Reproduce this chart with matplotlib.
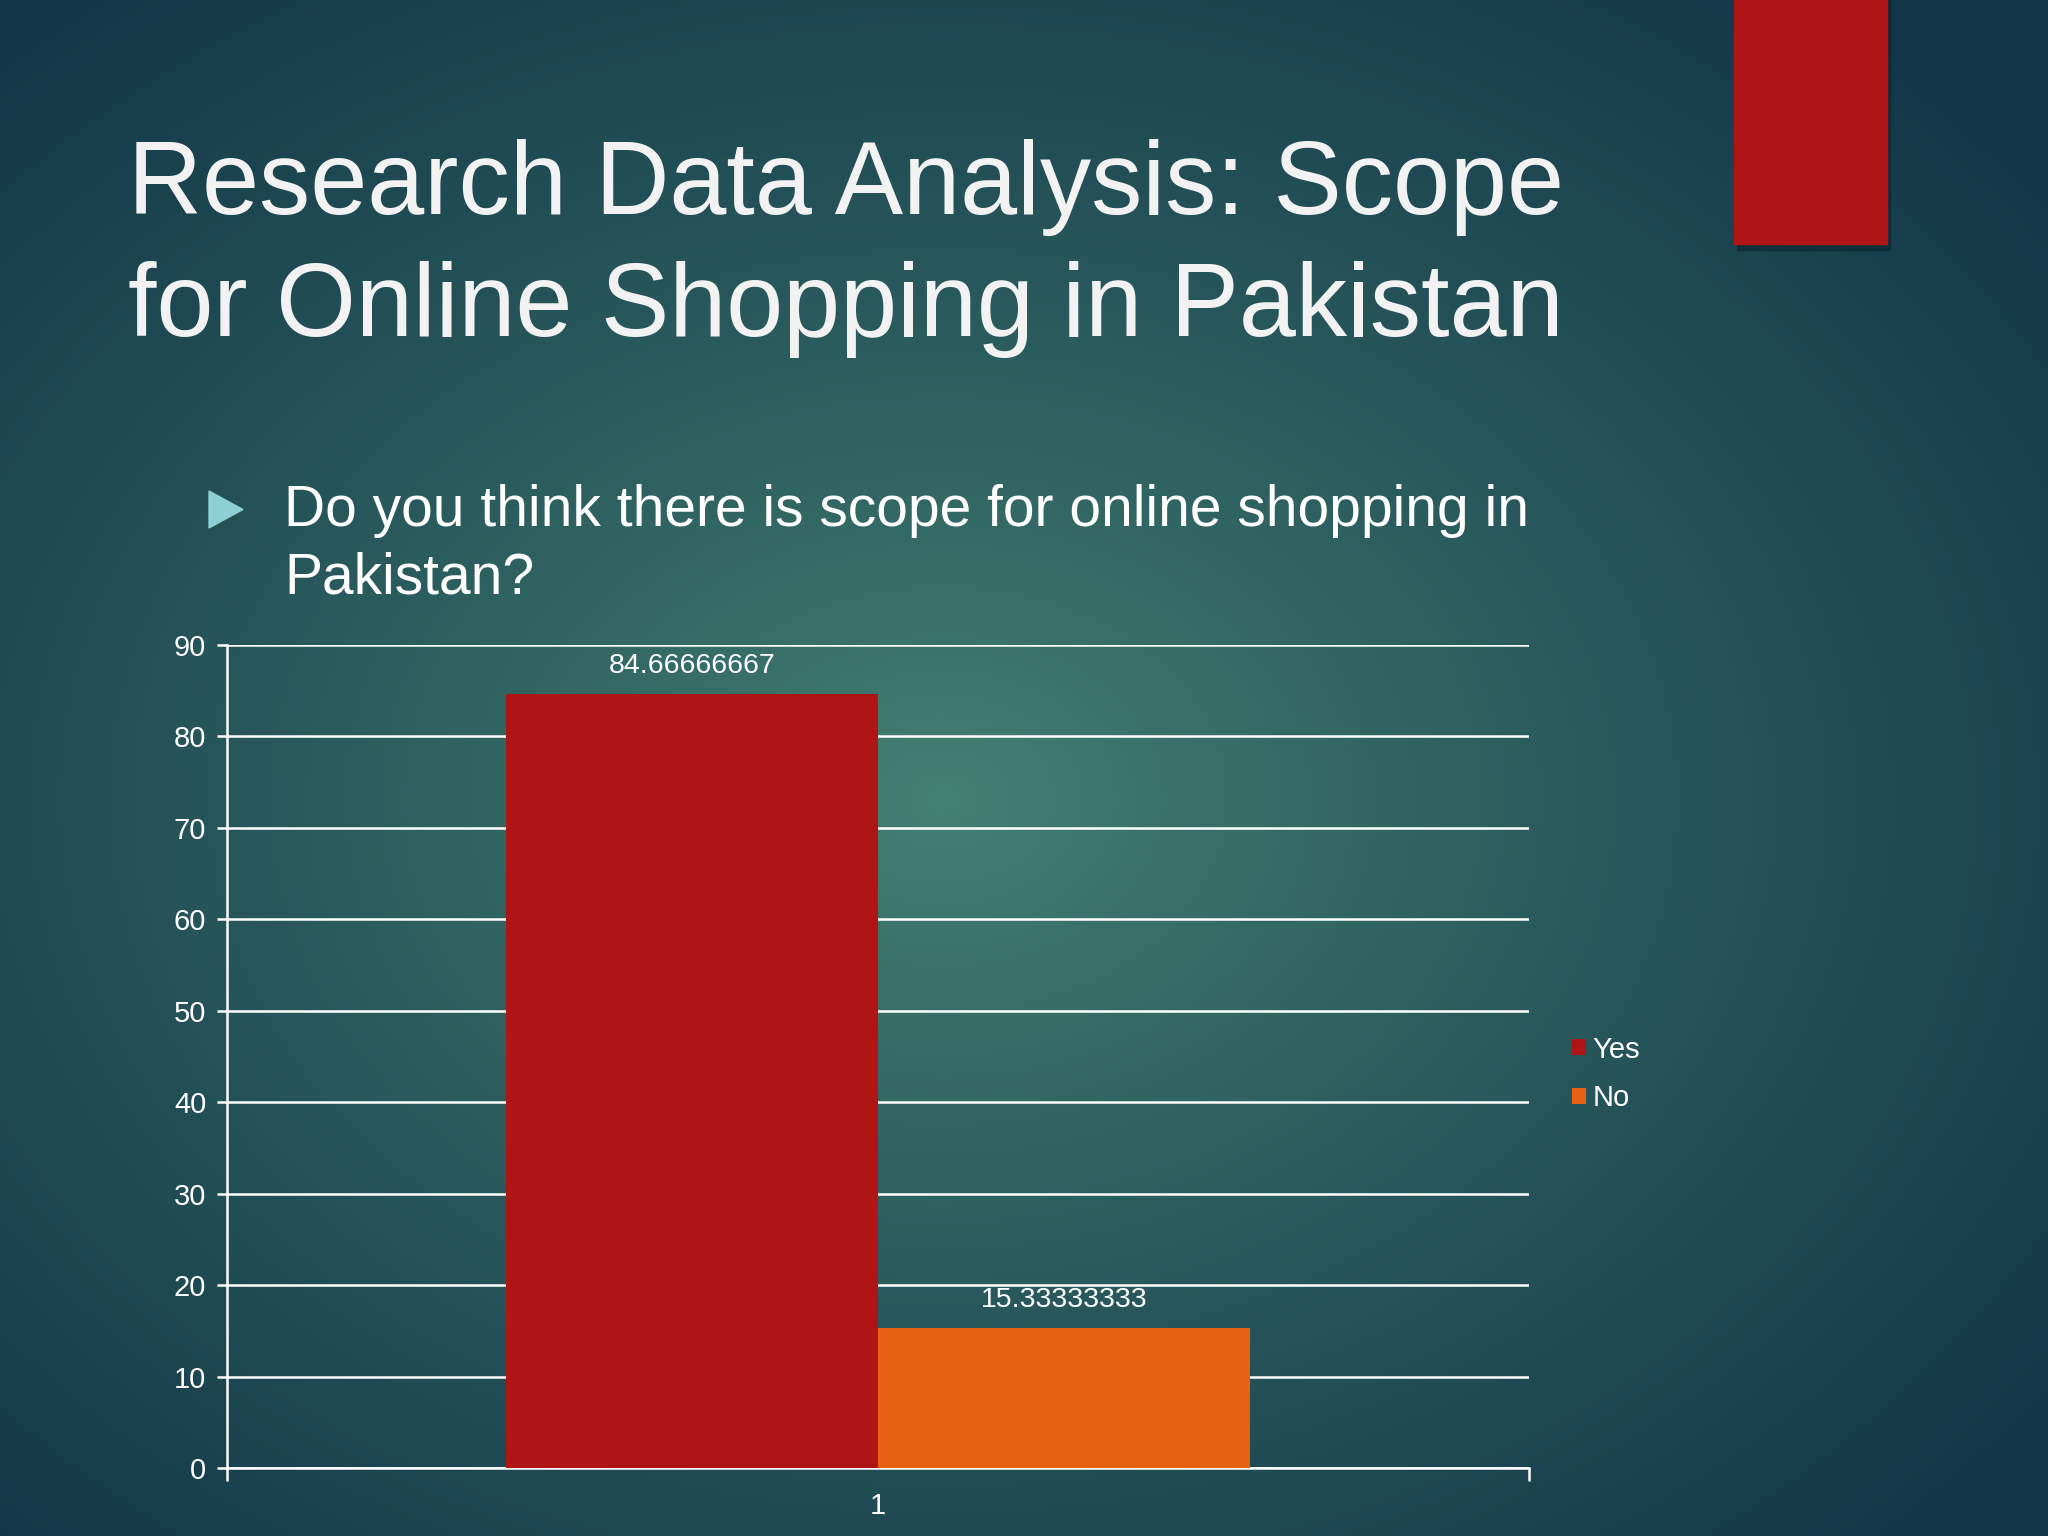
import numpy as np
import matplotlib.pyplot as plt
from matplotlib.patches import Rectangle, Polygon

plt.rcParams['font.family'] = ['Liberation Sans', 'DejaVu Sans']

# --- Data ---
categories = ["1"]
series = ["Yes", "No"]
values = [84.66666667, 15.33333333]
labels = ["84.66666667", "15.33333333"]
yticks = [0, 10, 20, 30, 40, 50, 60, 70, 80, 90]
colors = ["#b01515", "#e86012"]

fig = plt.figure(figsize=(20.48, 15.36), dpi=100)

# --- Background: radial teal gradient ---
bg = fig.add_axes([0, 0, 1, 1])
bg.set_axis_off()
h, w = 768, 1024
yy, xx = np.mgrid[0:h, 0:w]
cx, cy = 0.46 * w, 0.52 * h
r = np.sqrt(((xx - cx) / w) ** 2 + ((yy - cy) / h) ** 2) / 0.68
r = np.clip(r, 0, 1)
inner = np.array([68, 130, 115]) / 255
outer = np.array([18, 54, 72]) / 255
img = inner[None, None, :] * (1 - r[..., None] ** 0.85) + outer[None, None, :] * r[..., None] ** 0.85
bg.imshow(img, extent=[0, 1, 0, 1], aspect='auto', origin='upper')
bg.set_xlim(0, 1)
bg.set_ylim(0, 1)

# red accent block top-right (with slight shadow)
bg.add_patch(Rectangle((1737 / 2048, 1 - 250 / 1536), 153 / 2048, 250 / 1536,
                       color="#0c2530", alpha=0.6, zorder=2))
bg.add_patch(Rectangle((1734 / 2048, 1 - 244 / 1536), 153 / 2048, 244 / 1536,
                       color="#b01515", zorder=3))

# title
fig.text(128 / 2048, 1 - 188 / 1536, "Research Data Analysis: Scope",
         fontsize=73.8, color="#f2f2f2", va="center", ha="left")
fig.text(128 / 2048, 1 - 309 / 1536, "for Online Shopping in Pakistan",
         fontsize=73.8, color="#f2f2f2", va="center", ha="left")

# bullet triangle + question text
bg.add_patch(Polygon([(209 / 2048, 1 - 491 / 1536), (209 / 2048, 1 - 528 / 1536),
                      (243 / 2048, 1 - 509.5 / 1536)], closed=True,
                     color="#8ccfd4", zorder=3))
fig.text(284 / 2048, 1 - 511 / 1536, "Do you think there is scope for online shopping in",
         fontsize=41, color="white", va="center", ha="left")
fig.text(284 / 2048, 1 - 579 / 1536, "Pakistan?",
         fontsize=41, color="white", va="center", ha="left")

# --- Chart ---
ax = fig.add_axes([227 / 2048, 1 - 1468 / 1536, 1302 / 2048, 823 / 1536])
ax.set_facecolor("none")
bw = 0.286
x = np.arange(len(categories)) + 1
for i, (s, v, c, lab) in enumerate(zip(series, values, colors, labels)):
    pos = x + (i - 0.5) * bw
    ax.bar(pos, [v], width=bw, color=c, label=s, zorder=3)
    ax.annotate(lab, (pos[0], v), xytext=(0, 20), textcoords="offset points",
                ha="center", va="center", fontsize=20.5, color="white")

ax.set_xlim(0.5, 1.5)
ax.set_ylim(0, 90)
ax.set_yticks(yticks)
ax.set_yticklabels([str(t) for t in yticks], fontsize=21, color="white")
ax.yaxis.grid(True, color="white", linewidth=1.8, zorder=1)
ax.set_axisbelow(True)
ax.tick_params(axis='y', length=7, width=1.8, color="white", pad=8)

ax.set_xticks([0.5, 1.5], minor=False)
ax.set_xticklabels(["", ""])
ax.tick_params(axis='x', length=9, width=1.8, color="white")
ax.set_xticks([1], minor=True)
ax.set_xticklabels(categories, minor=True, fontsize=21, color="white")
ax.tick_params(axis='x', which='minor', length=0, pad=17)

for side in ["top", "right"]:
    ax.spines[side].set_visible(False)
for side in ["left", "bottom"]:
    ax.spines[side].set_color("white")
    ax.spines[side].set_linewidth(1.8)

leg = fig.legend(loc="center left", bbox_to_anchor=(1546 / 2048, 1 - 1074 / 1536),
                 frameon=False, fontsize=21, handlelength=0.48, handleheight=0.48,
                 handletextpad=0.22, labelspacing=0.72)
for t in leg.get_texts():
    t.set_color("white")

fig.savefig("out.png", dpi=100)
